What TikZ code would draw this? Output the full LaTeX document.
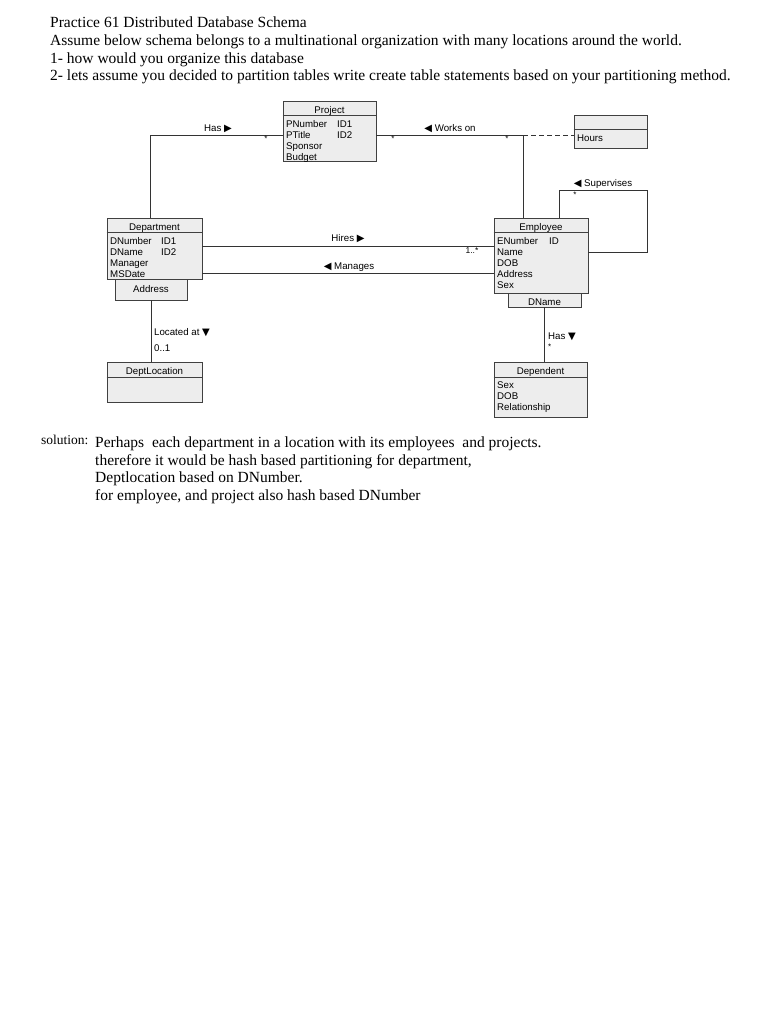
\documentclass[tikz,border=0pt]{standalone}
\usepackage{fontspec}
\setmainfont{Liberation Serif}
\setsansfont{Liberation Sans}
\newfontfamily\trifont{DejaVu Sans}
\newcommand{\rtri}{{\trifont\fontsize{10}{11}\selectfont ▶}}
\newcommand{\ltri}{{\trifont\fontsize{10}{11}\selectfont ◀}}
\newcommand{\dtri}{{\trifont\fontsize{10}{11}\selectfont ▼}}

\begin{document}
\begin{tikzpicture}[x=1pt,y=-1pt,
  ent/.style={draw=black!75, fill=black!7, line width=0.6pt, inner sep=0pt},
  sepline/.style={draw=black!75, line width=0.9pt},
  rel/.style={draw=black!80, line width=0.6pt},
  lbl/.style={font=\sffamily\fontsize{9.7}{11}\selectfont, inner sep=0pt},
  attr/.style={lbl, anchor=base west},
  hdr/.style={lbl, anchor=base},
  mult/.style={font=\sffamily\fontsize{8}{9}\selectfont, inner sep=0pt},
  txt/.style={font=\fontsize{15.5}{18}\selectfont, anchor=base west, inner sep=0pt}]
\useasboundingbox[fill=white] (0,0) rectangle (768,1024);

\node[txt] (t1) at (50,28) {Practice 61 Distributed Database Schema};
\node[txt] (t2) at (50,46) {Assume below schema belongs to a multinational organization with many locations around the world.};
\node[txt] (t3) at (50,63.5) {1- how would you organize this database};
\node[txt] (t4) at (50,81) {2- lets assume you decided to partition tables write create table statements based on your partitioning method.};

\node[ent, minimum width=93pt, minimum height=60pt] (proj) at (329.5,131) {};
\draw[sepline] ([yshift=-15pt]proj.north west) -- ([yshift=-15pt]proj.north east);
\node[hdr] (projH) at (329.5,113.5) {Project};
\node[attr] (projA1) at (286,127.5) {PNumber};
\node[attr] (projA2) at (286,138.5) {PTitle};
\node[attr] (projA3) at (286,149.5) {Sponsor};
\node[attr] (projA4) at (286,160.5) {Budget};
\node[attr] (projK1) at (337,127.5) {ID1};
\node[attr] (projK2) at (337,138.5) {ID2};

\node[ent, minimum width=73pt, minimum height=33pt] (hours) at (610.5,131.5) {};
\draw[sepline] ([yshift=-15pt]hours.north west) -- ([yshift=-15pt]hours.north east);
\node[attr] (hoursA) at (577,141.5) {Hours};

\node[ent, minimum width=72pt, minimum height=21pt] (addr) at (151,289.5) {};
\node[hdr] (addrH) at (151,292.5) {Address};
\node[ent, minimum width=95pt, minimum height=61pt] (dept) at (154.5,248.5) {};
\draw[sepline] ([yshift=-15pt]dept.north west) -- ([yshift=-15pt]dept.north east);
\node[hdr] (deptH) at (154.5,230.5) {Department};
\node[attr] (deptA1) at (110,244.5) {DNumber};
\node[attr] (deptA2) at (110,255.5) {DName};
\node[attr] (deptA3) at (110,266.5) {Manager};
\node[attr] (deptA4) at (110,277.5) {MSDate};
\node[attr] (deptK1) at (161,244.5) {ID1};
\node[attr] (deptK2) at (161,255.5) {ID2};

\node[ent, minimum width=73pt, minimum height=14pt] (dname) at (544.5,300) {};
\node[ent, minimum width=94pt, minimum height=75pt] (emp) at (541,255.5) {};
\draw[sepline] ([yshift=-15pt]emp.north west) -- ([yshift=-15pt]emp.north east);
\node[hdr] (empH) at (541,230.5) {Employee};
\node[attr] (empA1) at (497,244.5) {ENumber};
\node[attr] (empA2) at (497,255.5) {Name};
\node[attr] (empA3) at (497,266.5) {DOB};
\node[attr] (empA4) at (497,277.5) {Address};
\node[attr] (empA5) at (497,288.5) {Sex};
\node[attr] (empK1) at (549,244.5) {ID};
\node[hdr] (dnameH) at (544.5,305.5) {DName};

\node[ent, minimum width=95pt, minimum height=40pt] (dloc) at (154.5,382) {};
\draw[sepline] ([yshift=-16pt]dloc.north west) -- ([yshift=-16pt]dloc.north east);
\node[hdr] (dlocH) at (154.5,374.5) {DeptLocation};

\node[ent, minimum width=93pt, minimum height=55pt] (dep) at (540.5,389.5) {};
\draw[sepline] ([yshift=-16pt]dep.north west) -- ([yshift=-16pt]dep.north east);
\node[hdr] (depH) at (540.5,374.5) {Dependent};
\node[attr] (depA1) at (497,388.5) {Sex};
\node[attr] (depA2) at (497,399.5) {DOB};
\node[attr] (depA3) at (497,410.5) {Relationship};

\coordinate (hasC) at (150,135);
\coordinate (workC) at (523,135);
\coordinate (supR) at (647,190);
\coordinate (supL) at (559,190);
\coordinate (supE) at (589,252);
\coordinate (hiresY) at (350,246);
\coordinate (manY) at (350,273);

\draw[rel] (dept.north -| hasC) -- (hasC) -- (proj.west |- hasC);
\draw[rel] (proj.east |- workC) -- (workC) -- (emp.north -| workC);
\draw[rel, dashed, dash pattern=on 5pt off 3pt] (workC) -- (hours.west |- workC);
\draw[rel] (emp.east |- supE) -| (supR) -- (supL) -- (emp.north -| supL);
\draw[rel] (dept.east |- hiresY) -- (emp.west |- hiresY);
\draw[rel] (dept.east |- manY) -- (emp.west |- manY);
\draw[rel] (addr.south) -- (addr.south |- dloc.north);
\draw[rel] (dname.south) -- (dname.south |- dep.north);

\node[lbl] (hasL) at (218,129) {Has \rtri};
\node[lbl] (workL) at (450,129) {\ltri\ Works on};
\node[lbl] (supL2) at (603,184) {\ltri\ Supervises};
\node[lbl] (hiresL) at (348,239) {Hires \rtri};
\node[lbl] (manL) at (349,267) {\ltri\ Manages};
\node[lbl, anchor=west] (locL) at (154,333) {Located at \dtri};
\node[lbl, anchor=west] (locM) at (154,348) {0..1};
\node[lbl, anchor=west] (hasD) at (548,337) {Has \dtri};
\node[mult] (m1) at (266,139) {*};
\node[mult] (m2) at (393,139) {*};
\node[mult] (m3) at (507,139) {*};
\node[mult] (m4) at (575,195) {*};
\node[mult, anchor=west] (m5) at (548,347) {*};
\node[lbl, font=\sffamily\fontsize{8.5}{10}\selectfont] (m6) at (472,251) {1..*};

\node[txt, font=\fontsize{13.5}{16}\selectfont] (sol) at (41,444) {solution:};
\node[txt] (s1) at (95,447) {Perhaps\ \ each department in a location with its employees\ \ and projects.};
\node[txt] (s2) at (95,465) {therefore it would be hash based partitioning for department,};
\node[txt] (s3) at (95,482.5) {Deptlocation based on DNumber.};
\node[txt] (s4) at (95,500) {for employee, and project also hash based DNumber};
\end{tikzpicture}
\end{document}
